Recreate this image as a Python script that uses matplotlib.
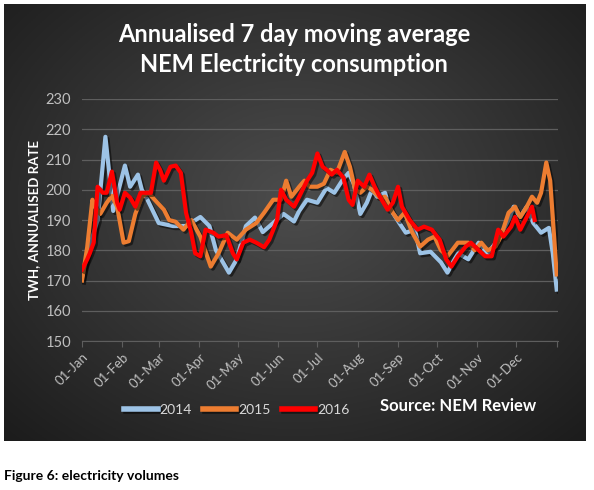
import numpy as np
import matplotlib
matplotlib.use("Agg")
import matplotlib.pyplot as plt
import matplotlib.patheffects as pe

plt.rcParams['font.family'] = ['Lato', 'DejaVu Sans']

# day of year -> annualised TWh
days_2014 = [0, 5, 12, 18, 24, 33, 37, 43, 46, 50, 59, 70, 80, 91, 98, 103, 113, 119, 126,
             133, 139, 147, 155, 163, 167, 173, 181, 188, 194, 200, 205, 209, 214, 219, 223,
             227, 233, 236, 244, 249, 256, 260, 268, 276, 281, 289, 297, 305, 312, 320, 328,
             332, 337, 342, 347, 353, 359, 362, 365]
twh_2014 = [171, 180, 190, 217.5, 193, 208, 201, 205, 200, 197, 189, 188, 188, 191, 188, 180,
            172.6, 177, 188, 190.8, 186, 189, 192, 189.5, 193, 196.7, 195.7, 200.6, 199, 203,
            205.6, 202, 192, 195.7, 200, 197.7, 199, 194.4, 189, 185.8, 186.8, 179, 179.5, 176,
            172.6, 179, 177, 182.5, 179, 183.5, 190, 194.4, 191, 194.4, 189, 185.8, 187.4, 179,
            167]

days_2015 = [0, 4, 8, 10, 14, 19, 23, 27, 32, 36, 41, 46, 51, 58, 63, 67, 72, 78, 84, 91, 99,
             105, 112, 119, 126, 134, 140, 147, 153, 157, 161, 167, 171, 175, 181, 186, 191, 196,
             202, 206, 210, 214, 219, 223, 229, 233, 239, 243, 248, 254, 260, 266, 271, 276, 281,
             289, 297, 302, 307, 312, 318, 322, 328, 333, 337, 342, 346, 350, 353, 357, 360, 363,
             365]
twh_2015 = [170, 181, 196.7, 194.4, 192, 195.7, 198, 194.4, 182.5, 183, 192, 197.7, 199, 195.7,
            193.4, 190, 189.4, 186.8, 190, 184.5, 174.6, 179, 185.8, 183.5, 186.8, 189, 192.4,
            196.7, 196.7, 203, 197.7, 201, 203, 201, 201, 202, 206.6, 205.6, 212.5, 207.6, 200,
            199, 201, 200, 197.4, 197.7, 192.4, 190, 192.4, 185.8, 181.2, 183.5, 184.5, 180, 178,
            182.5, 182.5, 180, 182.5, 180, 181.2, 184.5, 192.4, 194.4, 191, 194.4, 197.7, 195.7,
            199, 209, 203, 184.5, 172]

days_2016 = [0, 4, 6, 9, 12, 16, 19, 23, 27, 29, 33, 37, 41, 45, 49, 53, 57, 60, 63, 68, 72,
             76, 80, 84, 87, 91, 95, 101, 105, 111, 116, 119, 124, 129, 134, 140, 144, 150, 153,
             157, 163, 167, 173, 177, 181, 185, 188, 192, 196, 201, 205, 208, 212, 217, 221, 225,
             229, 235, 239, 243, 246, 252, 258, 263, 269, 275, 280, 284, 289, 295, 299, 305, 310,
             315, 320, 324, 330, 333, 337, 342, 346, 348]
twh_2016 = [173.6, 177, 179, 182.5, 201, 199, 199, 206, 195.7, 193.4, 199, 197.4, 194.4, 199,
            199, 199, 209, 206.6, 203, 207.6, 208, 205.6, 192.4, 185.8, 179, 178, 186.8, 185.8,
            184.5, 185, 179, 177, 182.5, 183.5, 182.5, 181, 183.5, 190, 200, 196.7, 194.4, 197.7,
            203, 205.6, 212, 207.6, 206.6, 205, 206.6, 204, 196.7, 195, 203, 201, 205, 201,
            197.7, 193.4, 195.7, 201, 194.4, 190, 186.8, 187.8, 186.8, 183.5, 177, 174.6, 178,
            181.2, 182.5, 180, 178, 178, 186.8, 184.5, 187.8, 191, 186.8, 191, 194.4, 190]

month_days = [0, 31, 59, 90, 120, 151, 181, 212, 243, 273, 304, 334]
month_labels = ["01-Jan", "01-Feb", "01-Mar", "01-Apr", "01-May", "01-Jun",
                "01-Jul", "01-Aug", "01-Sep", "01-Oct", "01-Nov", "01-Dec"]

W, H = 594, 490
fig = plt.figure(figsize=(W / 100, H / 100), dpi=100)
fig.patch.set_facecolor("white")

# dark radial gradient panel
bg = fig.add_axes([4 / W, 1 - 441 / H, 582 / W, 437 / H])
yy, xx = np.mgrid[0:1:200j, 0:1:260j]
r = np.sqrt(((xx - 0.5) / 0.75) ** 2 + ((yy - 0.45) / 0.8) ** 2)
shade = np.clip(0.30 - 0.20 * r, 0.10, 0.30)
bg.imshow(np.dstack([shade] * 3), aspect="auto", extent=[0, 1, 0, 1])
bg.set_axis_off()

ax = fig.add_axes([82 / W, 1 - 341 / H, (558 - 82) / W, (341 - 99) / H])
ax.patch.set_alpha(0)

shadow = [pe.SimpleLineShadow(offset=(1.5, -1.5), shadow_color="black", alpha=0.5), pe.Normal()]
ax.plot(days_2014, twh_2014, color="#9dc3e6", lw=3, label="2014", path_effects=shadow)
ax.plot(days_2015, twh_2015, color="#ed7d31", lw=3, label="2015", path_effects=shadow)
ax.plot(days_2016, twh_2016, color="#ff0000", lw=3, label="2016", path_effects=shadow)

ax.set_xlim(0, 366)
ax.set_ylim(150, 230)
ax.set_yticks(range(150, 231, 10))
ax.grid(axis="y", color="#5e5e5e", lw=0.9)
ax.set_axisbelow(True)
for s in ["top", "right", "left"]:
    ax.spines[s].set_visible(False)
ax.spines["bottom"].set_color("#5e5e5e")
ax.set_xticks(month_days + [365])
ax.set_xticklabels(month_labels + [""], rotation=45, ha="right", rotation_mode="anchor")
ax.tick_params(axis="x", colors="#5e5e5e", length=4, labelcolor="#bfbfbf", labelsize=9.5, pad=3)
ax.tick_params(axis="y", length=0, labelcolor="#bfbfbf", labelsize=10.5, pad=8)

fig.text(34 / W, 1 - 220 / H, "TWH, ANNUALISED RATE", rotation=90, color="white",
         fontsize=9.5, fontweight="bold", ha="center", va="center")

fig.text(294 / W, 1 - 35 / H, "Annualised 7 day moving average", color="white",
         fontsize=17, fontweight="bold", ha="center", va="center")
fig.text(294 / W, 1 - 64 / H, "NEM Electricity consumption", color="white",
         fontsize=17, fontweight="bold", ha="center", va="center")

leg = fig.legend(loc="center", bbox_to_anchor=(237 / W, 1 - 410 / H), ncol=3, frameon=False,
                 handlelength=2.4, handletextpad=0.15, columnspacing=0.8, fontsize=10)
for t in leg.get_texts():
    t.set_color("#d9d9d9")
for l in leg.get_lines():
    l.set_linewidth(4)

fig.text(458 / W, 1 - 406 / H, "Source: NEM Review", color="white", fontsize=12,
         fontweight="bold", ha="center", va="center")

fig.text(4 / W, 1 - 476 / H, "Figure 6: electricity volumes", color="black", fontsize=10,
         fontweight="bold", ha="left", va="center")

fig.savefig("out.png", dpi=100)
